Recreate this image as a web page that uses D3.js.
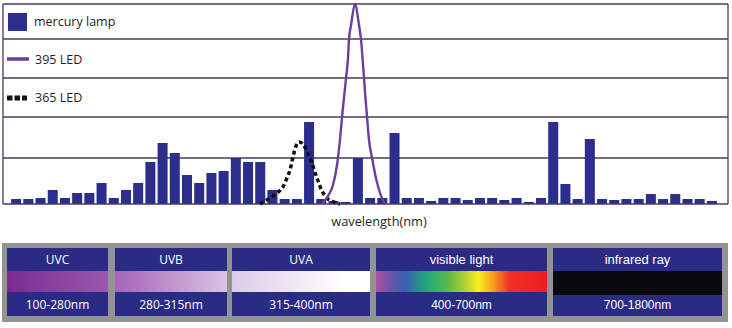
<!DOCTYPE html>
<html>
<head>
<meta charset="utf-8">
<script src="https://cdn.jsdelivr.net/npm/d3@7/dist/d3.min.js"></script>
<style>
  html, body { margin: 0; padding: 0; background: #fff; }
  svg { display: block; }
</style>
</head>
<body>
<svg id="chart" width="732" height="328"></svg>
<script>
// Mercury lamp emission lines, one bar per wavelength bin (relative intensity)
const mercuryLamp = [
  5, 5, 6, 14, 6, 11, 11, 21, 6, 14,
  21, 42, 61, 51, 29, 21, 31, 33, 46, 42,
  42, 14, 5, 5, 82, 5, 3, 2, 46, 6,
  6, 71, 6, 6, 3, 6, 6, 4, 6, 6,
  4, 6, 2, 6, 82, 20, 5, 65, 5, 4,
  5, 5, 10, 5, 10, 5, 5, 3
];
const binIndex = mercuryLamp.map((_, i) => i);

// 395 nm LED emission curve (position in bin units, intensity)
const led395Pos = [25.56, 26.05, 26.46, 26.79, 27.03, 27.20, 27.36, 27.53, 27.69, 27.77, 27.94, 28.26,
                   28.59, 28.75, 28.88, 29.00, 29.12, 29.25, 29.41, 29.66, 29.98, 30.31, 30.72];
const led395Val = [0, 8, 19, 39, 64, 87, 106, 126, 146, 165, 179, 200,
                   179, 165, 146, 126, 106, 87, 64, 46, 26, 11, 0];

// 365 nm LED emission curve
const led365Pos = [20.48, 20.89, 21.30, 21.87, 22.36, 22.69, 22.94, 23.18, 23.43, 23.68,
                   24.00, 24.35, 24.70, 25.12, 25.56, 26.05, 26.54, 27.03];
const led365Val = [0, 3, 6, 11, 17, 26, 34, 47, 58, 62,
                   60, 52, 42, 27, 13, 5, 2, 0];

// Horizontal guide levels
const gridLevels = [46, 87, 126, 165, 200];

// Legend entries
const legendLabels = ["mercury lamp", "395 LED", "365 LED"];

// Spectrum strip
const bandNames  = ["UVC", "UVB", "UVA", "visible light", "infrared ray"];
const bandRanges = ["100-280nm", "280-315nm", "315-400nm", "400-700nm", "700-1800nm"];

const COLORS = {
  bar: "#2b2e8c",
  grid: "#4a3a5c",
  led395: "#6a3e9c",
  led365: "#111111",
  text: "#1e1e1e",
  stripBg: "#939393",
  box: "#2a2b85"
};

const svg = d3.select("#chart");

const plot = { left: 3, right: 728, top: 4, bottom: 204 };

const x = d3.scaleBand()
  .domain(binIndex)
  .range([10, 718])
  .paddingInner(0.18)
  .paddingOuter(0.09);

const xc = d3.scaleLinear().domain([0, mercuryLamp.length]).range([10, 718]);
const y = d3.scaleLinear().domain([0, 200]).range([plot.bottom, plot.top]);

// grid lines (the top one doubles as the frame)
svg.append("g")
  .selectAll("line")
  .data(gridLevels)
  .join("line")
  .attr("x1", plot.left).attr("x2", plot.right)
  .attr("y1", d => y(d)).attr("y2", d => y(d))
  .attr("stroke", COLORS.grid)
  .attr("stroke-width", 1.3);

// side frame
svg.append("g").selectAll("line")
  .data([plot.left, plot.right])
  .join("line")
  .attr("x1", d => d).attr("x2", d => d)
  .attr("y1", plot.top).attr("y2", plot.bottom)
  .attr("stroke", COLORS.grid)
  .attr("stroke-width", 1.3);

// mercury lamp bars
svg.append("g")
  .selectAll("rect")
  .data(mercuryLamp)
  .join("rect")
  .attr("x", (d, i) => x(i))
  .attr("width", x.bandwidth())
  .attr("y", d => y(d))
  .attr("height", d => y(0) - y(d))
  .attr("fill", COLORS.bar);

// baseline
svg.append("line")
  .attr("x1", plot.left).attr("x2", plot.right)
  .attr("y1", y(0)).attr("y2", y(0))
  .attr("stroke", COLORS.grid)
  .attr("stroke-width", 1.5);

const line = d3.line()
  .x(d => xc(d[0]))
  .y(d => y(d[1]))
  .curve(d3.curveMonotoneX);

// 365 LED (dotted)
svg.append("path")
  .datum(d3.zip(led365Pos, led365Val))
  .attr("d", line)
  .attr("fill", "none")
  .attr("stroke", COLORS.led365)
  .attr("stroke-width", 3.5)
  .attr("stroke-dasharray", "4 3");

// 395 LED (solid)
svg.append("path")
  .datum(d3.zip(led395Pos, led395Val))
  .attr("d", line)
  .attr("fill", "none")
  .attr("stroke", COLORS.led395)
  .attr("stroke-width", 2.4);

// legend, one entry per band between the upper guide lines
const legendRowsY = [22, 60, 98];
const legend = svg.append("g");

legend.append("rect")
  .attr("x", 8).attr("y", legendRowsY[0] - 9)
  .attr("width", 19).attr("height", 18)
  .attr("fill", COLORS.bar);

legend.append("line")
  .attr("x1", 7).attr("x2", 29)
  .attr("y1", legendRowsY[1] - 1).attr("y2", legendRowsY[1] - 1)
  .attr("stroke", COLORS.led395)
  .attr("stroke-width", 3.5);

legend.append("line")
  .attr("x1", 7).attr("x2", 27)
  .attr("y1", legendRowsY[2]).attr("y2", legendRowsY[2])
  .attr("stroke", COLORS.led365)
  .attr("stroke-width", 5)
  .attr("stroke-dasharray", "5.5 2");

legend.selectAll("text")
  .data(legendLabels)
  .join("text")
  .attr("x", (d, i) => i === 0 ? 34 : 35)
  .attr("y", (d, i) => legendRowsY[i])
  .attr("dy", "0.35em")
  .attr("font-family", "'Open Sans', sans-serif")
  .attr("font-size", 12.5)
  .attr("fill", COLORS.text)
  .text(d => d);

// axis title
svg.append("text")
  .attr("x", 379).attr("y", 226)
  .attr("text-anchor", "middle")
  .attr("font-family", "'Open Sans', sans-serif")
  .attr("font-size", 12.8)
  .attr("fill", COLORS.text)
  .text("wavelength(nm)");

// ---- spectrum strip ----
const defs = svg.append("defs");
const gradStops = [
  [["0%", "#7a2b90"], ["100%", "#9a58b0"]],
  [["0%", "#a563b8"], ["100%", "#d9c4e3"]],
  [["0%", "#ddcbe8"], ["82%", "#ffffff"], ["100%", "#ffffff"]],
  [["0%", "#b04f9f"], ["8%", "#6a55a8"], ["17%", "#3b5fb0"], ["30%", "#1fa97a"], ["42%", "#5bb947"],
   ["54%", "#c6d431"], ["60%", "#fbee1f"], ["68%", "#f6a21f"], ["78%", "#ee3124"], ["100%", "#ec1c24"]],
  [["0%", "#0a0a0c"], ["100%", "#0a0a0c"]]
];
gradStops.forEach((stops, i) => {
  const g = defs.append("linearGradient").attr("id", "band" + i)
    .attr("x1", "0%").attr("x2", "100%").attr("y1", "0%").attr("y2", "0%");
  stops.forEach(s => g.append("stop").attr("offset", s[0]).attr("stop-color", s[1]));
});

const strip = { x0: 2, x1: 728, y0: 243, y1: 322 };
svg.append("rect")
  .attr("x", strip.x0).attr("y", strip.y0)
  .attr("width", strip.x1 - strip.x0).attr("height", strip.y1 - strip.y0)
  .attr("fill", COLORS.stripBg);

const boxEdges = [[7, 108], [115, 227], [232, 370], [376, 547], [553, 722]];
const boxTop = 248, boxBottom = 316;
const bands = bandNames.map((n, i) => ({ name: n, range: bandRanges[i], i }));

const boxes = svg.append("g").selectAll("g")
  .data(bands)
  .join("g");

boxes.append("rect")
  .attr("x", d => boxEdges[d.i][0])
  .attr("y", boxTop)
  .attr("width", d => boxEdges[d.i][1] - boxEdges[d.i][0])
  .attr("height", boxBottom - boxTop)
  .attr("fill", COLORS.box);

boxes.append("rect")
  .attr("x", d => boxEdges[d.i][0])
  .attr("y", 271)
  .attr("width", d => boxEdges[d.i][1] - boxEdges[d.i][0])
  .attr("height", d => d.i === 4 ? 24 : 21)
  .attr("fill", d => `url(#band${d.i})`);

boxes.append("text")
  .attr("x", d => (boxEdges[d.i][0] + boxEdges[d.i][1]) / 2)
  .attr("y", 259.5)
  .attr("dy", "0.35em")
  .attr("text-anchor", "middle")
  .attr("font-family", d => d.i >= 3 ? "'Liberation Sans', Arial, sans-serif" : "'Open Sans', sans-serif")
  .attr("font-size", d => d.i >= 3 ? 13 : 12)
  .attr("fill", "#ffffff")
  .text(d => d.name);

boxes.append("text")
  .attr("x", d => (boxEdges[d.i][0] + boxEdges[d.i][1]) / 2)
  .attr("y", 305)
  .attr("dy", "0.35em")
  .attr("text-anchor", "middle")
  .attr("font-family", d => d.i >= 3 ? "'Liberation Sans', Arial, sans-serif" : "'Open Sans', sans-serif")
  .attr("font-size", 12)
  .attr("fill", "#ffffff")
  .text(d => d.range);
</script>
</body>
</html>
